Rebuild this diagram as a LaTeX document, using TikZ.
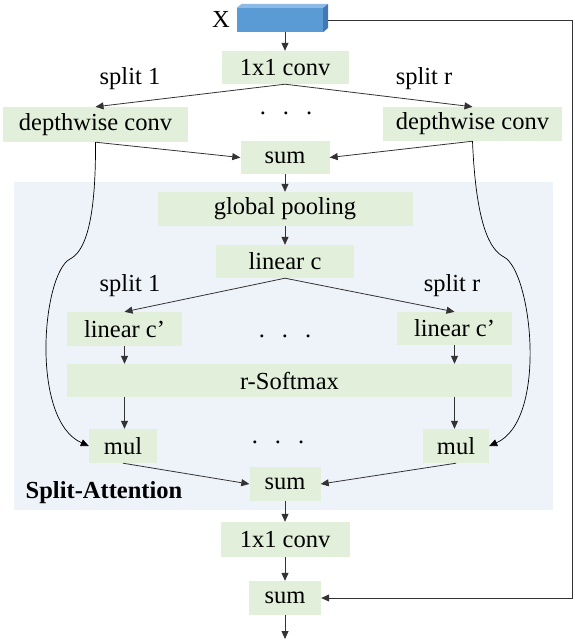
\documentclass[tikz,border=0pt]{standalone}
\usepackage{fontspec}
\setmainfont{Liberation Serif}
\usetikzlibrary{arrows.meta}
\definecolor{boxgreen}{HTML}{E2EFDA}
\definecolor{sabg}{HTML}{EEF2F9}
\definecolor{cubefront}{HTML}{5B9BD5}
\definecolor{cubetop}{HTML}{8CB9E6}
\definecolor{cubeside}{HTML}{4378B4}
\begin{document}
\begin{tikzpicture}[x=1pt,y=-1pt,
  lbl/.style={font=\fontsize{24.5}{28}\selectfont, inner sep=0pt},
  opbox/.style={fill=boxgreen, inner sep=0pt, font=\fontsize{24.5}{28}\selectfont},
  conn/.style={line width=0.8pt, draw=black!80, -{Triangle[length=8pt,width=7pt]}},
  curve/.style={line width=0.7pt, -{Triangle[length=8pt,width=7pt]}}]
\useasboundingbox (0,0) rectangle (575,641);
% Split-Attention background
\fill[sabg] (14,182) rectangle (553,510);
\node[font=\fontsize{24.5}{28}\selectfont\bfseries, inner sep=0pt] (satitle) at (104,493) {Split-Attention};
% cube input
\node[fill=cubefront, minimum width=86pt, minimum height=24pt, inner sep=0pt] (cube) at (280,20) {};
\fill[cubetop] (cube.north west) -- ++(5,-4) -- ++(86,0) -- (cube.north east) -- cycle;
\fill[cubeside] (cube.north east) -- ++(5,-4) -- ++(0,24) -- (cube.south east) -- cycle;
\coordinate (cubeR) at (328,20);
\node[lbl] (xlbl) at (221,19) {X};
% boxes
\node[opbox, minimum width=127pt, minimum height=33pt] (conv1) at (285,67.5) {1x1 conv};
\node[opbox, minimum width=185pt, minimum height=35pt] (dwl) at (95.5,124.5) {depthwise conv};
\node[opbox, minimum width=179pt, minimum height=34pt] (dwr) at (472.5,124) {depthwise conv};
\node[opbox, minimum width=89pt, minimum height=33pt] (sum1) at (285,157.5) {sum};
\node[opbox, minimum width=255pt, minimum height=34pt] (gp) at (285,209) {global pooling};
\node[opbox, minimum width=138pt, minimum height=33pt] (lc) at (285,261.5) {linear c};
\node[opbox, minimum width=115pt, minimum height=34pt] (lcl) at (124.5,329) {linear c'};
\node[opbox, minimum width=115pt, minimum height=33pt] (lcr) at (454.5,328.5) {linear c'};
\node[opbox, minimum width=445pt, minimum height=33pt] (soft) at (289.5,380.5) {r-Softmax};
\node[opbox, minimum width=68pt, minimum height=34pt] (mull) at (123,446) {mul};
\node[opbox, minimum width=66pt, minimum height=34pt] (mulr) at (456,446) {mul};
\node[opbox, minimum width=71pt, minimum height=34pt] (sum2) at (285,484) {sum};
\node[opbox, minimum width=129pt, minimum height=35pt] (conv2) at (285,539.5) {1x1 conv};
\node[opbox, minimum width=72pt, minimum height=34pt] (sum3) at (285,598) {sum};
\coordinate (outend) at (285,639);
\coordinate (smL) at (lcl.south |- soft.south);
\coordinate (smR) at (lcr.south |- soft.south);
\coordinate (mlT) at (lcl.south |- mull.north);
\coordinate (mrT) at (lcr.south |- mulr.north);
\coordinate (skipA) at (572,20);
\coordinate (skipB) at (572,598);
% labels
\node[lbl] (s1a) at (130,79) {split 1};
\node[lbl] (sra) at (424,79) {split r};
\node[lbl] (s1b) at (130,286) {split 1};
\node[lbl] (srb) at (452,286) {split r};
\node[lbl, anchor=base] (dots1) at (286,114) {.\hspace{17pt}.\hspace{17pt}.};
\node[lbl, anchor=base] (dots2) at (285,337) {.\hspace{17pt}.\hspace{17pt}.};
\node[lbl, anchor=base] (dots3) at (278,443) {.\hspace{17pt}.\hspace{17pt}.};
% connectors
\draw[conn] (conv1.north |- cube.south) -- (conv1.north);
\draw[conn] (conv1.south) -- (dwl.north);
\draw[conn] (conv1.south) -- (dwr.north);
\draw[conn] (dwl.south) -- (sum1.west);
\draw[conn] (dwr.south) -- (sum1.east);
\draw[conn] (sum1.south) -- (gp.north);
\draw[conn] (gp.south) -- (lc.north);
\draw[conn] (lc.south) -- (lcl.north);
\draw[conn] (lc.south) -- (lcr.north);
\draw[conn] (lcl.south) -- (lcl.south |- soft.north);
\draw[conn] (lcr.south) -- (lcr.south |- soft.north);
\draw[conn] (smL) -- (mlT);
\draw[conn] (smR) -- (mrT);
\draw[conn] (mull.south) -- (sum2.west);
\draw[conn] (mulr.south) -- (sum2.east);
\draw[conn] (sum2.south) -- (conv2.north);
\draw[conn] (conv2.south) -- (sum3.north);
\draw[conn] (sum3.south) -- (outend);
\draw[conn] (cubeR) -- (skipA) -- (skipB) -- (sum3.east);
% curves
\draw[curve] (dwl.south) .. controls (96,225) and (84,252) .. (70,259)
  .. controls (42,274) and (30,420) .. (mull.west);
\draw[curve] (dwr.south) .. controls (476,225) and (490,250) .. (504,257)
  .. controls (532,272) and (548,420) .. (mulr.east);
\end{tikzpicture}
\end{document}
